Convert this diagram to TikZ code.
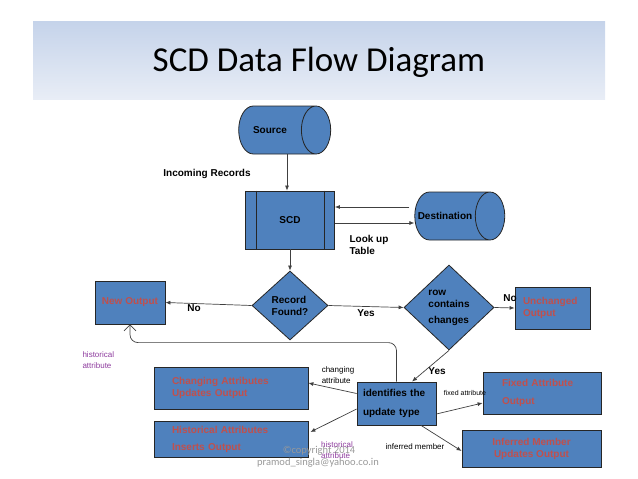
\documentclass[tikz,border=0pt]{standalone}
\usepackage{fontspec}
\setmainfont{Liberation Sans}
\newfontfamily\titlefont{Carlito}
\usetikzlibrary{shapes.geometric,arrows.meta,calc}
\definecolor{boxblue}{HTML}{4F81BD}
\definecolor{outred}{HTML}{C0504D}
\definecolor{attrpurple}{HTML}{8E3C9E}
\definecolor{bandtop}{HTML}{C5D3EA}
\definecolor{bandbot}{HTML}{E8EDF6}
\begin{document}
\begin{tikzpicture}[x=1pt,y=-1pt,
    box/.style={draw=black!85,fill=boxblue,line width=0.8pt,inner sep=0pt},
    cyl/.style={box,cylinder,aspect=0.65,inner ysep=19pt},
    dec/.style={box,diamond,align=left,font=\bfseries\fontsize{10}{12}\selectfont},
    outbox/.style={box,text=outred,font=\bfseries\fontsize{10}{12}\selectfont},
    arr/.style={draw=black!75,line width=0.7pt,-{Latex[length=5pt,width=4pt]}},
    lbl/.style={font=\bfseries\fontsize{10}{12}\selectfont},
    small/.style={align=left,font=\fontsize{8}{11}\selectfont}]
    \useasboundingbox (0,0) rectangle (638,479);
    %% title band
    \fill[top color=bandtop,bottom color=bandbot] (33,21) rectangle (605,99);
    \node[font=\titlefont\fontsize{35}{40}\selectfont] (title) at (319,62) {SCD Data Flow Diagram};
    %% source, lookup and SCD
    \node[cyl,lbl,minimum width=48,minimum height=92] (src) at (270,130) {Source};
    \node[cyl,lbl,minimum width=48,minimum height=90] (dst) at (445,216) {Destination};
    \node[box,lbl,minimum width=89,minimum height=58] (scd) at (290,220) {SCD};
    \draw[draw=black!85,line width=0.8pt]
        ([xshift=11pt]scd.north west) -- ([xshift=11pt]scd.south west)
        ([xshift=-11pt]scd.north east) -- ([xshift=-11pt]scd.south east);
    \node[lbl] (inc) at (207,174) {Incoming Records};
    \node[lbl,align=left,anchor=west] (look) at (346,245) {Look up\\Table};
    \draw[arr] ($(src.south)+(17,0)$) -- ($(src.south |- scd.north)+(17,0)$);
    \draw[arr] ($(dst.west)+(-5,-9)$) -- ($(scd.east)+(0,-13)$);
    \draw[arr] ($(scd.east)+(0,3)$) -- ($(dst.west)+(0,7)$);
    %% decisions
    \node[dec,minimum width=76,minimum height=69] (rf) at (290,305.5) {Record\\Found?};
    \node[dec,minimum width=90,minimum height=85] (row) at (449,307.5) {row\\contains\\[4pt]changes};
    \node[outbox,minimum width=70,minimum height=43] (new) at (130,302.5) {New Output};
    \node[outbox,minimum width=75,minimum height=42,text width=59,align=left] (unch) at (552.5,308) {Unchanged\\Output};
    \draw[arr] (scd.south) -- (rf.north);
    \draw[arr] (rf.west) -- (new.east);
    \draw[arr] (rf.east) -- (row.west);
    \draw[arr] (row.east) -- (unch.west);
    \node[lbl] (no1) at (194,308) {No};
    \node[lbl] (yes1) at (366,313) {Yes};
    \node[lbl] (no2) at (510,298) {No};
    \node[lbl] (yes2) at (437,371) {Yes};
    %% update type and outputs
    \node[box,lbl,minimum width=79,minimum height=43,text width=67,align=left] (idt) at (396.5,403.5) {identifies the\\[7pt]update type};
    \node[outbox,minimum width=154,minimum height=42,text width=118,align=left] (chg) at (231,388) {Changing Attributes\\Updates Output};
    \node[outbox,minimum width=154,minimum height=36,text width=118,align=left] (his) at (231,439) {Historical Attributes\\[5pt]Inserts Output};
    \node[outbox,minimum width=118,minimum height=42,text width=80,align=left] (fix) at (542,393) {Fixed Attribute\\[6pt]Output};
    \node[outbox,minimum width=139,minimum height=37,align=center] (inf) at (531.5,448.5) {Inferred Member\\Updates Output};
    \draw[arr] (row.south) -- ($(idt.north)+(15.5,0)$);
    \draw[draw=black!75,line width=0.7pt,-{Straight Barb[length=6pt,width=12pt]},rounded corners=8pt]
        (idt.north) -- ++(0,-39) -| (new.south);
    \draw[arr] ($(idt.west)+(0,-10)$) -- ($(chg.east)+(0,-5)$);
    \draw[arr] ($(idt.west)+(0,5.5)$) -- ($(his.east)+(2,-7)$);
    \draw[arr] ($(idt.east)+(0,10.5)$) -- ($(fix.west)+(0,10)$);
    \draw[arr] ($(idt.south)+(24.5,0)$) -- ($(inf.west)+(0,2.5)$);
    %% watermark
    \node[font=\titlefont\fontsize{10.5}{12}\selectfont,text=black!40] (cpy) at (319,451) {\textcopyright copyright 2014};
    \node[font=\titlefont\fontsize{10.5}{12}\selectfont,text=black!40] (mail) at (318,463) {pramod\_singla@yahoo.co.in};
    %% connector labels
    \node[small] (chgl) at (338,375) {changing\\attribute};
    \node[small,text=attrpurple] (hisl) at (337,450) {historical\\attribute};
    \node[small,font=\fontsize{7}{8}\selectfont] (fixl) at (465,393) {fixed attribute};
    \node[small] (infl) at (415,447) {inferred member};
    \node[small,text=attrpurple,anchor=west] (hisl2) at (79,360) {historical\\attribute};
\end{tikzpicture}
\end{document}
